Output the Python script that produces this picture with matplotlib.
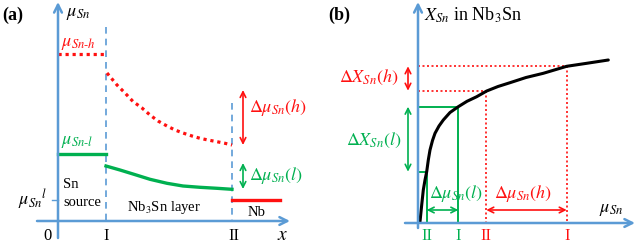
import matplotlib
matplotlib.use("Agg")
import matplotlib.pyplot as plt
import numpy as np

plt.rcParams['font.family'] = ['Liberation Serif', 'DejaVu Serif']
plt.rcParams['mathtext.fontset'] = 'stix'

BLUE = '#5B9BD5'
RED = '#FF1010'
GREEN = '#00B050'

# ---------------- data (pixel-space schematic) ----------------
# panel (a)
a_high_x = [107, 117, 125, 133, 142, 150, 158, 167, 175, 183, 192, 200, 208, 217, 225, 232]
a_high_y = [73, 85, 93, 101.5, 108, 115, 121, 126, 130, 133, 136, 138.3, 140, 141.7, 143.3, 145]
a_low_x = [106, 120, 133, 150, 167, 183, 200, 217, 232]
a_low_y = [166, 170, 174, 179.3, 183.3, 186, 187.3, 188.3, 189.3]
a_high_level = 54
a_low_level = 154
a_nb_level = 200
a_pos = {'0': 58, 'I': 106, 'II': 232}

# panel (b)
b_curve_x = [420, 421.7, 423.3, 425, 426.7, 428.3, 430, 432.5, 435, 439, 443.3, 450, 458.3,
             467, 476.7, 486.7, 498, 510, 526, 543.3, 556, 566.7, 586.7, 608.3]
b_curve_y = [221.7, 205, 190, 180, 171.7, 160, 150, 140.5, 133.3, 126, 120, 112.5, 106.7,
             101.3, 96.7, 91, 86.5, 82.7, 77.5, 73.3, 69.5, 66.3, 63.3, 60]
b_green_x = [426.7, 458.3]     # II, I  (low)
b_green_y = [171.7, 106.7]
b_red_x = [486.3, 566.7]       # II, I  (high)
b_red_y = [90.7, 66.3]

fig = plt.figure(figsize=(6.37, 2.46), dpi=100)
ax = fig.add_axes([0, 0, 1, 1])
ax.set_xlim(0, 637)
ax.set_ylim(246, 0)
ax.axis('off')

def arrow(x0, y0, x1, y1, color, style='<->', lw=1.2, ms=10):
    ax.annotate('', xy=(x1, y1), xytext=(x0, y0),
                arrowprops=dict(arrowstyle=style, color=color, lw=lw,
                                mutation_scale=ms, shrinkA=0, shrinkB=0))

# ================= panel (a) =================
arrow(58, 238, 58, 2, BLUE, '->', 1.8, 14)
arrow(37, 221, 290, 221, BLUE, '->', 1.8, 14)
ax.plot([a_pos['I']] * 2, [27, 221], color=BLUE, lw=1.2, ls=(0, (4, 3)))
ax.plot([a_pos['II']] * 2, [103, 221], color=BLUE, lw=1.2, ls=(0, (4, 3)))
ax.plot([58, 106], [a_high_level] * 2, color=RED, lw=2.3, ls=(0, (1, 1.2)))
ax.plot(a_high_x, a_high_y, color=RED, lw=2.3, ls=(0, (1, 1.2)))
ax.plot([58, 106], [a_low_level] * 2, color=GREEN, lw=2.4)
ax.plot(a_low_x, a_low_y, color=GREEN, lw=2.4)
ax.plot([232, 280], [a_nb_level] * 2, color=RED, lw=2.4)
ax.plot([52, 58], [a_nb_level] * 2, color=BLUE, lw=1.0)
arrow(243, 90, 243, 145, RED)
arrow(243, 163, 243, 189, GREEN)

ax.text(2, 15, '(a)', fontsize=13, fontweight='bold', va='center', ha='left')
ax.text(66, 14, r'$\mu_{Sn}$', fontsize=13, va='center', ha='left')
ax.text(61, 43, r'$\mu_{Sn\text{-}h}$', fontsize=13, color=RED, va='center', ha='left')
ax.text(61, 142, r'$\mu_{Sn\text{-}l}$', fontsize=13, color=GREEN, va='center', ha='left')
ax.text(249, 108, r'$\Delta\mu_{Sn}(h)$', fontsize=13, color=RED, va='center', ha='left')
ax.text(249, 176, r'$\Delta\mu_{Sn}(l)$', fontsize=13, color=GREEN, va='center', ha='left')
ax.text(63, 185, 'Sn', fontsize=10.5, va='center', ha='left')
ax.text(63, 203, 'source', fontsize=10.5, va='center', ha='left')
ax.text(164, 207, r'Nb$_3$Sn layer', fontsize=10.5, va='center', ha='center')
ax.text(257, 212, 'Nb', fontsize=10.5, va='center', ha='center')
ax.text(18, 200, r'$\mu_{Sn}{}^{l}$', fontsize=13, va='center', ha='left')
ax.text(48, 236, '0', fontsize=12, va='center', ha='center')
ax.text(a_pos['I'], 236, 'I', fontsize=12, va='center', ha='center')
ax.text(a_pos['II'] + 2, 236, 'II', fontsize=12, va='center', ha='center')
ax.text(283, 235, r'$x$', fontsize=14, va='center', ha='center')

# ================= panel (b) =================
arrow(418, 228, 418, 2, BLUE, '->', 1.8, 14)
arrow(405, 223, 635, 223, BLUE, '->', 1.8, 14)
for gx, gy in zip(b_green_x, b_green_y):
    ax.plot([418, gx], [gy, gy], color=GREEN, lw=1.4)
    ax.plot([gx, gx], [gy, 223], color=GREEN, lw=1.4)
for rx, ry in zip(b_red_x, b_red_y):
    ax.plot([418, rx], [ry, ry], color=RED, lw=1.2, ls=(0, (1.2, 1.5)))
    ax.plot([rx, rx], [ry, 223], color=RED, lw=1.2, ls=(0, (1.2, 1.5)))
ax.plot(b_curve_x, b_curve_y, color='black', lw=2.2, solid_capstyle='round',
        solid_joinstyle='round')
arrow(408, b_red_y[1], 408, b_red_y[0], RED)
arrow(408, b_green_y[1], 408, b_green_y[0], GREEN)
arrow(b_green_x[0], 210, b_green_x[1], 210, GREEN)
arrow(b_red_x[0], 210, b_red_x[1], 210, RED)

ax.text(328, 15, '(b)', fontsize=13, fontweight='bold', va='center', ha='left')
ax.text(424, 15, r'$X_{Sn}$ in Nb$_3$Sn', fontsize=13, va='center', ha='left')
ax.text(339, 77, r'$\Delta X_{Sn}(h)$', fontsize=13, color=RED, va='center', ha='left')
ax.text(346, 140, r'$\Delta X_{Sn}(l)$', fontsize=13, color=GREEN, va='center', ha='left')
ax.text(429, 193, r'$\Delta\mu_{Sn}(l)$', fontsize=13, color=GREEN, va='center', ha='left')
ax.text(494, 193, r'$\Delta\mu_{Sn}(h)$', fontsize=13, color=RED, va='center', ha='left')
ax.text(599, 210, r'$\mu_{Sn}$', fontsize=13, va='center', ha='left')
ax.text(b_green_x[0], 236, 'II', fontsize=12, color=GREEN, va='center', ha='center')
ax.text(b_green_x[1], 236, 'I', fontsize=12, color=GREEN, va='center', ha='center')
ax.text(b_red_x[0], 236, 'II', fontsize=12, color=RED, va='center', ha='center')
ax.text(b_red_x[1], 236, 'I', fontsize=12, color=RED, va='center', ha='center')

fig.savefig('out.png', dpi=100)
